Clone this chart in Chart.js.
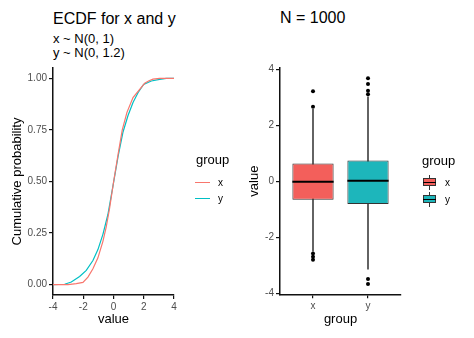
<!DOCTYPE html>
<html>
<head>
<meta charset="utf-8">
<script src="https://cdn.jsdelivr.net/npm/chart.js@4.4.0/dist/chart.umd.min.js"></script>
<style>
  body { margin: 0; background: #fff; font-family: "Liberation Sans", Arial, sans-serif; }
  #wrap { position: relative; width: 474px; height: 338px; overflow: hidden; }
  .txt { position: absolute; white-space: nowrap; color: #000; }
  .title { font-size: 16px; line-height: 16px; }
  .sub { font-size: 13px; line-height: 14px; }
  .legTitle { font-size: 13px; line-height: 14px; }
  .legRow { position: absolute; height: 16px; display: flex; align-items: center; font-size: 10px; color: #000; }
  .lineKey { width: 15px; height: 1px; margin-right: 8px; }
  .boxKey { position: relative; width: 13px; height: 15px; margin-right: 9px; }
  .boxKey .wh { position: absolute; left: 6px; top: 0; width: 1px; height: 15px; background: #333; }
  .boxKey .bx { position: absolute; left: 0; top: 3.5px; width: 11px; height: 6px; border: 1px solid #333; }
  .boxKey .md { position: absolute; left: 0; top: 7px; width: 13px; height: 1.5px; background: #000; }
  canvas.panel { position: absolute; top: 60px; }
</style>
</head>
<body>
<div id="wrap">
  <div class="txt title" style="left:53px; top:11px;">ECDF for x and y</div>
  <div class="txt sub" style="left:53px; top:32px;">x ~ N(0, 1)<br>y ~ N(0, 1.2)</div>
  <div class="txt title" style="left:280px; top:10px;">N = 1000</div>

  <canvas id="ecdf" class="panel" width="237" height="278" style="left:0;"></canvas>
  <canvas id="box" class="panel" width="237" height="278" style="left:237px;"></canvas>

  <div class="txt legTitle" style="left:196px; top:153px;">group</div>
  <div class="legRow" style="left:195px; top:174px;"><span class="lineKey" style="background:#F8766D"></span>x</div>
  <div class="legRow" style="left:195px; top:190px;"><span class="lineKey" style="background:#00BFC4"></span>y</div>

  <div class="txt legTitle" style="left:422px; top:154px;">group</div>
  <div class="legRow" style="left:423px; top:174px;"><span class="boxKey"><span class="wh"></span><span class="bx" style="background:#F35F5B"></span><span class="md"></span></span>x</div>
  <div class="legRow" style="left:423px; top:191px;"><span class="boxKey"><span class="wh"></span><span class="bx" style="background:#1DB6BB"></span><span class="md"></span></span>y</div>
</div>

<script>
// ECDF
const ecdfValX = [-4, -3.0, -2.46, -2.02, -1.69, -1.36, -1.03, -0.70, -0.48, -0.26, 0.01, 0.30, 0.58, 0.89, 1.29, 1.73, 2.06, 2.35, 2.61, 3.05, 4];
const ecdfProbX = [0, 0, 0.005, 0.011, 0.037, 0.077, 0.13, 0.21, 0.28, 0.37, 0.50, 0.63, 0.75, 0.835, 0.907, 0.947, 0.976, 0.988, 0.996, 1.0, 1.0];
const ecdfValY = [-4, -3.23, -2.79, -2.24, -1.80, -1.36, -1.03, -0.70, -0.37, -0.04, 0.30, 0.63, 0.96, 1.29, 1.62, 1.99, 2.50, 3.05, 3.49, 4];
const ecdfProbY = [0, 0.002, 0.013, 0.04, 0.069, 0.117, 0.17, 0.244, 0.34, 0.476, 0.62, 0.74, 0.82, 0.883, 0.93, 0.97, 0.987, 0.995, 1.0, 1.0];

const ecdfXTicks = [-4, -2, 0, 2, 4];
const ecdfXTickLabels = ['-4', '-2', '0', '2', '4'];
const ecdfYTicks = [0, 0.25, 0.5, 0.75, 1];
const ecdfYTickLabels = ['0.00', '0.25', '0.50', '0.75', '1.00'];

// boxplot stats
const groups = ['x', 'y'];
const q1 = [-0.64, -0.80];
const medians = [0.0, 0.03];
const q3 = [0.65, 0.76];
const whiskerLow = [-2.48, -3.12];
const whiskerHigh = [2.58, 3.03];
const outliersX = [3.23, 2.68, -2.56, -2.68, -2.79];
const outliersY = [3.69, 3.49, 3.25, 3.12, -3.47, -3.65];

const boxYTicks = [-4, -2, 0, 2, 4];
const boxYTickLabels = ['-4', '-2', '0', '2', '4'];

const tickGray = '#4D4D4D';

function fixedTicks(values) {
    return function (axis) {
        axis.ticks = values.map(v => ({ value: v }));
    };
}

function axisStyle(extra) {
    return Object.assign({
        grid: { drawOnChartArea: false, offset: false, color: '#111', lineWidth: 1.2, tickLength: 4 },
        border: { display: true, color: '#111', width: 1.5 }
    }, extra);
}

// left: ECDF lines
new Chart(document.getElementById('ecdf'), {
    type: 'line',
    data: {
        datasets: [
            {
                label: 'x',
                data: ecdfValX.map((v, i) => ({ x: v, y: ecdfProbX[i] })),
                borderColor: '#F8766D',
                borderWidth: 1.2,
                pointRadius: 0,
                tension: 0
            },
            {
                label: 'y',
                data: ecdfValY.map((v, i) => ({ x: v, y: ecdfProbY[i] })),
                borderColor: '#00BFC4',
                borderWidth: 1.2,
                pointRadius: 0,
                tension: 0
            }
        ]
    },
    options: {
        responsive: false,
        animation: false,
        layout: { padding: { top: 5.5, right: 63, bottom: 0, left: 0 } },
        plugins: { legend: { display: false }, tooltip: { enabled: false } },
        scales: {
            x: axisStyle({
                type: 'linear',
                min: -4,
                max: 4,
                afterBuildTicks: fixedTicks(ecdfXTicks),
                afterFit: s => { s.height = 43; },
                ticks: {
                    color: tickGray, font: { size: 10 }, padding: 2, maxRotation: 0, autoSkip: false,
                    callback: (v, i) => ecdfXTickLabels[i]
                },
                title: { display: true, text: 'value', color: '#000', font: { size: 13 }, padding: { top: 0, bottom: 10.5 } }
            }),
            y: axisStyle({
                type: 'linear',
                min: -0.05,
                max: 1.05,
                afterBuildTicks: fixedTicks(ecdfYTicks),
                afterFit: s => { s.width = 53; },
                ticks: {
                    color: tickGray, font: { size: 10 }, padding: 2, autoSkip: false,
                    callback: (v, i) => ecdfYTickLabels[i]
                },
                title: { display: true, text: 'Cumulative probability', color: '#000', font: { size: 13 }, padding: { top: 10, bottom: 0 } }
            })
        }
    }
});

// median bars drawn across each box
const medianPlugin = {
    id: 'medianLine',
    afterDatasetsDraw(chart) {
        const meta = chart.getDatasetMeta(1);
        const yScale = chart.scales.y;
        const ctx = chart.ctx;
        ctx.save();
        ctx.strokeStyle = '#000';
        ctx.lineWidth = 2;
        meta.data.forEach((bar, i) => {
            const y = yScale.getPixelForValue(medians[i]);
            ctx.beginPath();
            ctx.moveTo(bar.x - bar.width / 2, y);
            ctx.lineTo(bar.x + bar.width / 2, y);
            ctx.stroke();
        });
        ctx.restore();
    }
};

const outlierPts = outliersX.map(v => ({ x: 1, y: v }))
    .concat(outliersY.map(v => ({ x: 2, y: v })));

new Chart(document.getElementById('box'), {
    type: 'bar',
    data: {
        datasets: [
            {
                type: 'scatter',
                label: 'outliers',
                data: outlierPts,
                backgroundColor: '#000',
                borderWidth: 0,
                pointRadius: 2,
                order: 0
            },
            {
                label: 'box',
                data: groups.map((g, i) => ({ x: i + 1, y: [q1[i], q3[i]] })),
                backgroundColor: ['#F35F5B', '#1DB6BB'],
                borderColor: '#333',
                borderWidth: 1,
                borderSkipped: false,
                grouped: false,
                categoryPercentage: 1,
                barPercentage: 0.75,
                order: 1
            },
            {
                label: 'whisker',
                data: groups.map((g, i) => ({ x: i + 1, y: [whiskerLow[i], whiskerHigh[i]] })),
                backgroundColor: '#444',
                barThickness: 1,
                grouped: false,
                order: 2
            }
        ]
    },
    options: {
        responsive: false,
        animation: false,
        layout: { padding: { top: 5.7, right: 73, bottom: 0, left: 0 } },
        plugins: { legend: { display: false }, tooltip: { enabled: false } },
        scales: {
            x: axisStyle({
                type: 'linear',
                min: 0.4,
                max: 2.6,
                offset: false,
                afterBuildTicks: fixedTicks([1, 2]),
                afterFit: s => { s.height = 43.7; },
                ticks: {
                    color: tickGray, font: { size: 10 }, padding: 2, maxRotation: 0, autoSkip: false,
                    callback: (v, i) => groups[i]
                },
                title: { display: true, text: 'group', color: '#000', font: { size: 13 }, padding: { top: 0, bottom: 10.5 } }
            }),
            y: axisStyle({
                type: 'linear',
                min: -4.02,
                max: 4.06,
                afterBuildTicks: fixedTicks(boxYTicks),
                afterFit: s => { s.width = 43; },
                ticks: {
                    color: tickGray, font: { size: 10 }, padding: 2, autoSkip: false,
                    callback: (v, i) => boxYTickLabels[i]
                },
                title: { display: true, text: 'value', color: '#000', font: { size: 13 }, padding: { top: 10, bottom: 0 } }
            })
        }
    },
    plugins: [medianPlugin]
});
</script>
</body>
</html>
